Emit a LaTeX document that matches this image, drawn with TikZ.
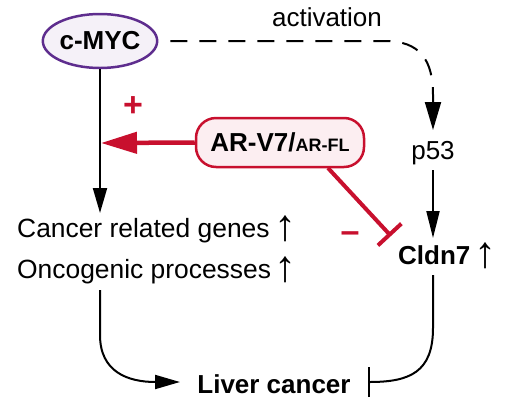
\documentclass[tikz,border=0pt]{standalone}
\usepackage{fontspec}
\setmainfont{Liberation Sans}
\usetikzlibrary{arrows.meta,shapes.geometric}
\definecolor{mycpurple}{HTML}{5E2D8E}
\definecolor{mycfill}{HTML}{F5F1F8}
\definecolor{arred}{HTML}{C8102E}
\definecolor{arfill}{HTML}{FCEEF1}
\begin{document}
\begin{tikzpicture}[x=1pt,y=-1pt,
  lbl/.style={inner sep=0pt, font=\fontsize{26}{30}\selectfont},
  blbl/.style={inner sep=0pt, font=\fontsize{26}{30}\selectfont\bfseries},
  uparr/.style={inner sep=0pt, font=\fontsize{44}{50}\selectfont},
  blk/.style={line width=2pt, black},
  tipb/.style={-{Triangle[length=25pt,width=14pt]}},
  redline/.style={line width=4.5pt, arred}
]
\useasboundingbox (0,0) rectangle (508,410);

% nodes
\node[ellipse, draw=mycpurple, fill=mycfill, line width=2.5pt, minimum width=110pt,
      minimum height=54pt, inner sep=0pt, font=\fontsize{26}{30}\selectfont\bfseries] (myc) at (100,41) {c-MYC};
\node[draw=arred, fill=arfill, line width=2.5pt, rounded corners=20pt, minimum width=168pt,
      minimum height=49pt, inner sep=0pt] (ar) at (280,142.5)
      {\fontsize{26}{30}\selectfont\bfseries AR-V7/\fontsize{18}{20}\selectfont AR-FL};
\node[lbl, anchor=base] (act) at (327,26) {activation};
\node[lbl, anchor=base] (p53) at (433,159) {p53};
\node[lbl, font=\fontsize{26.4}{30}\selectfont, anchor=base west] (genes) at (17,237) {Cancer related genes};
\node[lbl, font=\fontsize{26.4}{30}\selectfont, anchor=base west] (onc) at (17,278) {Oncogenic processes};
\node[uparr] (up1) at (285,229) {↑};
\node[uparr] (up2) at (285,270) {↑};
\node[blbl, anchor=base west] (cldn) at (398,264) {Cldn7};
\node[uparr] (up3) at (485,256) {↑};
\node[blbl, anchor=base] (liver) at (274,393) {Liver cancer};
\node[inner sep=0pt, font=\fontsize{34}{36}\selectfont\bfseries, text=arred] (plus) at (133,107) {+};
\node[inner sep=0pt, font=\fontsize{34}{36}\selectfont\bfseries, text=arred] (minus) at (350,237) {–};

% junctions / ends
\coordinate (j) at (101,143);
\coordinate (gtop) at (100,213);
\coordinate (dtip) at (433,130);
\coordinate (p53b) at (433,170);
\coordinate (ctop) at (433,238);
\coordinate (cbot) at (433,275);
\coordinate (obot) at (100,290);
\coordinate (lvl) at (180,382);
\coordinate (lvr) at (368,382);
\coordinate (inh) at (391,236);
\coordinate (arbr) at (328,168);

% connectors
\draw[blk, tipb] (myc.south) -- (gtop);
\draw[redline, -{Triangle[length=36pt,width=21pt]}] (ar.west) -- (j);
\draw[blk, dash pattern=on 17pt off 12pt, -{Triangle[length=28pt,width=16pt]}, shorten <=12pt]
  (myc.east) -- (385,41) .. controls (420,41) and (433,60) .. (433,95) -- (dtip);
\draw[blk, -{Triangle[length=27pt,width=13pt]}] (p53b) -- (ctop);
\draw[blk, tipb] (obot) -- (100,335) .. controls (100,372) and (128,382) .. (lvl);
\draw[blk, -{Bar[width=30pt]}] (cbot) -- (433,328) .. controls (433,372) and (410,382) .. (lvr);
\draw[redline, line width=4pt, -{Bar[width=32pt]}] (arbr) -- (inh);
\end{tikzpicture}
\end{document}
